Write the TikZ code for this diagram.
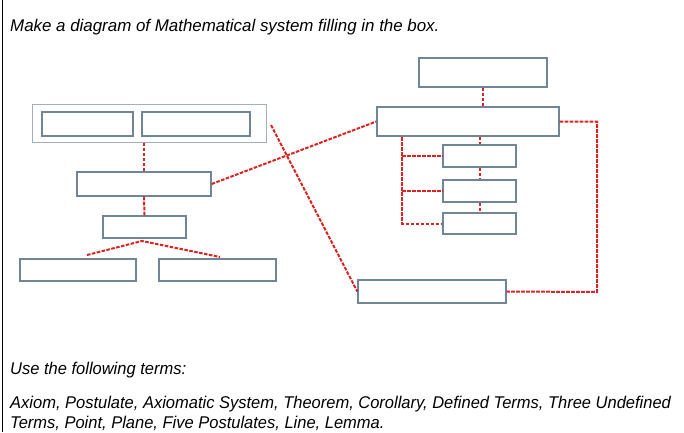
\documentclass[tikz,border=0pt]{standalone}
\usepackage{fontspec}
\setmainfont{Liberation Sans}
\usepackage{graphicx}
\definecolor{boxcol}{RGB}{112,134,150}
\definecolor{outercol}{RGB}{160,175,185}
\definecolor{redcol}{RGB}{218,36,36}
\begin{document}
\begin{tikzpicture}[x=1pt,y=-1pt,
  box/.style={draw=boxcol,line width=1.4pt,fill=white,rectangle,inner sep=0pt},
  outerbox/.style={draw=outercol,line width=1pt,rectangle,inner sep=0pt},
  link/.style={draw=redcol,line width=2pt,dash pattern=on 3.6pt off 1.4pt},
  txt/.style={anchor=base west,inner sep=0pt,font=\itshape}]
\useasboundingbox (0,0) rectangle (684,432);
\draw[line width=0.9pt] (2,0) -- (2,432);
% left part
\node[outerbox,minimum width=234pt,minimum height=38pt] (outer) at (149,123) {};
\node[box,minimum width=91pt,minimum height=24pt] (in1) at (87.5,124) {};
\node[box,minimum width=108pt,minimum height=24pt] (in2) at (196,124) {};
\node[box,minimum width=134pt,minimum height=24pt] (mid) at (144,184) {};
\node[box,minimum width=83pt,minimum height=22pt] (small) at (144.5,227) {};
\node[box,minimum width=116pt,minimum height=22pt] (bl) at (78,270) {};
\node[box,minimum width=117pt,minimum height=22pt] (br) at (217.5,270) {};
% right part
\node[box,minimum width=128pt,minimum height=29pt] (top) at (483,72.5) {};
\node[box,minimum width=182pt,minimum height=29pt] (wide) at (468,121.5) {};
\node[box,minimum width=73pt,minimum height=22pt] (boxA) at (479.5,156) {};
\node[box,minimum width=73pt,minimum height=22pt] (boxB) at (479.5,191) {};
\node[box,minimum width=73pt,minimum height=21pt] (boxC) at (479.5,223.5) {};
\node[box,minimum width=148pt,minimum height=23pt] (bottom) at (432,291.5) {};
% coordinates
\coordinate (apex) at (142,241);
\coordinate (lend) at (87,255);
\coordinate (rend) at (220,257);
\coordinate (cstart) at (271,125);
\coordinate (brk) at (402,137);
\coordinate (rc) at (597,292);
% connectors
\draw[link] (mid.north |- outer.south) -- (mid.north);
\draw[link] (mid.south) -- (small.north);
\draw[link] (lend) -- (apex) -- (rend);
\draw[link] (mid.east) -- (wide.west);
\draw[link] (cstart) -- (bottom.west);
\draw[link] (top.south) -- (wide.north -| top.south);
\draw[link] (wide.south -| boxA.north) -- (boxA.north);
\draw[link] (boxA.south) -- (boxB.north);
\draw[link] (boxB.south) -- (boxC.north);
\draw[link] (brk) |- (boxC.west);
\draw[link] (brk |- boxA.west) -- (boxA.west);
\draw[link] (brk |- boxB.west) -- (boxB.west);
\draw[link] (wide.east) -| (rc) -- (bottom.east);
% texts
\node[txt,font=\itshape\fontsize{16.9}{20}\selectfont] (title) at (10,31) {Make a diagram of Mathematical system filling in the box.};
\node[txt] (use) at (10,374) {\scalebox{0.97}[1]{\fontsize{17}{20}\selectfont Use the following terms:}};
\node[txt] (terms1) at (10,408) {\scalebox{0.97}[1]{\fontsize{17}{20}\selectfont Axiom, Postulate, Axiomatic System, Theorem, Corollary, Defined Terms, Three Undefined}};
\node[txt] (terms2) at (10,428.5) {\scalebox{0.97}[1]{\fontsize{17}{20}\selectfont Terms, Point, Plane, Five Postulates, Line, Lemma.}};
\end{tikzpicture}
\end{document}
